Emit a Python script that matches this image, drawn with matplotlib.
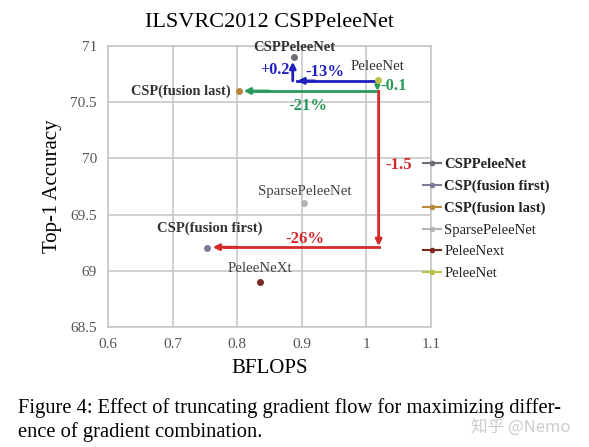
import matplotlib.pyplot as plt

plt.rcParams['font.family'] = ['Liberation Serif', 'DejaVu Serif']

names = ["CSPPeleeNet", "CSP(fusion first)", "CSP(fusion last)",
         "SparsePeleeNet", "PeleeNext", "PeleeNet"]
bflops = [0.888, 0.754, 0.803, 0.904, 0.835, 1.018]
top1 = [70.9, 69.2, 70.6, 69.6, 68.9, 70.7]
colors = ["#6b6e74", "#7f7a98", "#b8873c", "#b4b4b4", "#7a2a20", "#b9c244"]
bold = [True, True, True, False, False, False]

# labels drawn beside the points
point_labels = ["CSPPeleeNet", "CSP(fusion first)", "CSP(fusion last)",
                "SparsePeleeNet", "PeleeNeXt", "PeleeNet"]

fig = plt.figure(figsize=(5.89, 4.47), dpi=100)
ax = fig.add_axes([0.1834, 0.2685, 0.5483, 0.6285])

for i in range(len(names)):
    ax.plot(bflops[i], top1[i], "o", color=colors[i], markersize=4, zorder=5)

ax.set_xlim(0.6, 1.1)
ax.set_ylim(68.5, 71)
ax.set_xticks([0.6, 0.7, 0.8, 0.9, 1.0, 1.1])
ax.set_xticklabels(["0.6", "0.7", "0.8", "0.9", "1", "1.1"])
ax.set_yticks([68.5, 69, 69.5, 70, 70.5, 71])
ax.set_yticklabels(["68.5", "69", "69.5", "70", "70.5", "71"])
ax.grid(True, color="#c4c4c4", linewidth=1.1)
ax.set_axisbelow(True)
for s in ax.spines.values():
    s.set_color("#c4c4c4")
    s.set_linewidth(1.1)
ax.tick_params(length=0, labelsize=11, colors="#555555", pad=8)

ax.set_title("ILSVRC2012 CSPPeleeNet", fontsize=16, pad=14)
ax.set_xlabel("BFLOPS", fontsize=15, labelpad=6)
ax.set_ylabel("Top-1 Accuracy", fontsize=15, labelpad=6)

# point labels
ax.text(0.888, 70.93, point_labels[0], ha="center", va="bottom", fontsize=10.5,
        fontweight="bold", color="#333333")
ax.text(1.018, 70.76, point_labels[5], ha="center", va="bottom", fontsize=10.7, color="#333333")
ax.text(0.79, 70.6, point_labels[2], ha="right", va="center", fontsize=10.4,
        fontweight="bold", color="#333333")
ax.text(0.904, 69.65, point_labels[3], ha="center", va="bottom", fontsize=10.7, color="#444444")
ax.text(0.758, 69.32, point_labels[1], ha="center", va="bottom", fontsize=10.5,
        fontweight="bold", color="#333333")
ax.text(0.835, 68.96, point_labels[4], ha="center", va="bottom", fontsize=10.7, color="#444444")

blue = "#1f1fbf"
green = "#2a9a5a"
red = "#d42a2a"
arw = dict(arrowstyle="-|>", lw=2, mutation_scale=9, shrinkA=0, shrinkB=0)

# blue: PeleeNet -> CSPPeleeNet
ax.plot([1.018, 0.892], [70.69, 70.69], color=blue, lw=2)
ax.annotate("", xy=(0.893, 70.69), xytext=(0.92, 70.69),
            arrowprops=dict(arw, color=blue))
ax.annotate("", xy=(0.886, 70.86), xytext=(0.886, 70.69),
            arrowprops=dict(arw, color=blue))
ax.text(0.881, 70.79, "+0.2", ha="right", va="center", fontsize=11.5,
        fontweight="bold", color=blue)
ax.text(0.935, 70.77, "-13%", ha="center", va="center", fontsize=12,
        fontweight="bold", color=blue)

# green: PeleeNet -> CSP(fusion last)
ax.annotate("", xy=(1.017, 70.6), xytext=(1.017, 70.68),
            arrowprops=dict(arw, color=green, mutation_scale=6))
ax.plot([1.017, 0.82], [70.6, 70.6], color=green, lw=2)
ax.annotate("", xy=(0.81, 70.6), xytext=(0.85, 70.6),
            arrowprops=dict(arw, color=green))
ax.text(1.022, 70.64, "-0.1", ha="left", va="center", fontsize=12,
        fontweight="bold", color=green)
ax.text(0.91, 70.47, "-21%", ha="center", va="center", fontsize=12,
        fontweight="bold", color=green)

# red: PeleeNet -> CSP(fusion first)
ax.annotate("", xy=(1.019, 69.22), xytext=(1.019, 70.6),
            arrowprops=dict(arw, color=red))
ax.plot([1.019, 0.78], [69.21, 69.21], color=red, lw=2)
ax.annotate("", xy=(0.762, 69.21), xytext=(0.8, 69.21),
            arrowprops=dict(arw, color=red))
ax.text(1.03, 69.94, "-1.5", ha="left", va="center", fontsize=12,
        fontweight="bold", color=red)
ax.text(0.905, 69.28, "-26%", ha="center", va="center", fontsize=12,
        fontweight="bold", color=red)

# legend
handles = [plt.Line2D([], [], color=colors[i], marker="o", markersize=3, lw=1.5)
           for i in range(len(names))]
leg = fig.legend(handles, names, loc="upper left", bbox_to_anchor=(0.705, 0.663),
                 frameon=False, fontsize=10.5, handlelength=1.3, handletextpad=0.2,
                 labelspacing=0.58, borderpad=0)
for t, b in zip(leg.get_texts(), bold):
    t.set_color("#222222")
    if b:
        t.set_fontweight("bold")

# caption
fig.text(0.03, 0.088, "Figure 4: Effect of truncating gradient flow for maximizing differ-",
         fontsize=14.8, va="center")
fig.text(0.03, 0.033, "ence of gradient combination.", fontsize=14.8, va="center")
fig.text(0.80, 0.045, "知乎 @Nemo", fontsize=12, color="#cccccc", va="center",
         family=["Noto Sans CJK SC", "DejaVu Sans"])

fig.savefig("out.png", dpi=100)
